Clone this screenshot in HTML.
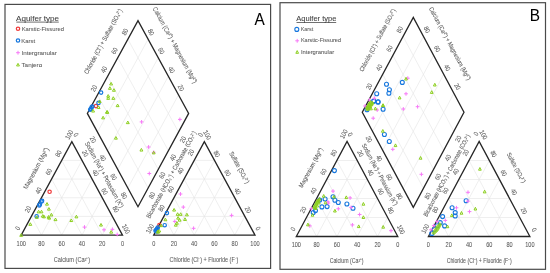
<!DOCTYPE html>
<html><head><meta charset="utf-8"><style>
html,body{margin:0;padding:0;background:#fff;}
svg{display:block;font-family:'Liberation Sans', Arial, sans-serif;}
text{stroke-width:0.06px;}
</style></head><body>
<svg width="550" height="273" viewBox="0 0 550 273">
<rect width="550" height="273" fill="#fff"/>
<rect x="5" y="4.4" width="265.6" height="264" fill="none" stroke="#4a4a4a" stroke-width="1.2"/>
<line x1="31.33" y1="216.42" x2="112.37" y2="216.42" stroke="#e4e4e4" stroke-width="0.6"/>
<line x1="41.46" y1="235.1" x2="81.98" y2="160.38" stroke="#e4e4e4" stroke-width="0.6"/>
<line x1="41.46" y1="235.1" x2="31.33" y2="216.42" stroke="#e4e4e4" stroke-width="0.6"/>
<line x1="163.83" y1="216.42" x2="244.87" y2="216.42" stroke="#e4e4e4" stroke-width="0.6"/>
<line x1="173.96" y1="235.1" x2="214.48" y2="160.38" stroke="#e4e4e4" stroke-width="0.6"/>
<line x1="173.96" y1="235.1" x2="163.83" y2="216.42" stroke="#e4e4e4" stroke-width="0.6"/>
<line x1="97.48" y1="94.84" x2="148.13" y2="188.04" stroke="#e4e4e4" stroke-width="0.6"/>
<line x1="97.48" y1="132.06" x2="148.13" y2="39.16" stroke="#e4e4e4" stroke-width="0.6"/>
<line x1="41.46" y1="197.74" x2="102.24" y2="197.74" stroke="#e4e4e4" stroke-width="0.6"/>
<line x1="61.72" y1="235.1" x2="92.11" y2="179.06" stroke="#e4e4e4" stroke-width="0.6"/>
<line x1="61.72" y1="235.1" x2="41.46" y2="197.74" stroke="#e4e4e4" stroke-width="0.6"/>
<line x1="173.96" y1="197.74" x2="234.74" y2="197.74" stroke="#e4e4e4" stroke-width="0.6"/>
<line x1="194.22" y1="235.1" x2="224.61" y2="179.06" stroke="#e4e4e4" stroke-width="0.6"/>
<line x1="194.22" y1="235.1" x2="173.96" y2="197.74" stroke="#e4e4e4" stroke-width="0.6"/>
<line x1="107.61" y1="76.28" x2="158.26" y2="169.38" stroke="#e4e4e4" stroke-width="0.6"/>
<line x1="107.61" y1="150.72" x2="158.26" y2="57.72" stroke="#e4e4e4" stroke-width="0.6"/>
<line x1="51.59" y1="179.06" x2="92.11" y2="179.06" stroke="#e4e4e4" stroke-width="0.6"/>
<line x1="81.98" y1="235.1" x2="102.24" y2="197.74" stroke="#e4e4e4" stroke-width="0.6"/>
<line x1="81.98" y1="235.1" x2="51.59" y2="179.06" stroke="#e4e4e4" stroke-width="0.6"/>
<line x1="184.09" y1="179.06" x2="224.61" y2="179.06" stroke="#e4e4e4" stroke-width="0.6"/>
<line x1="214.48" y1="235.1" x2="234.74" y2="197.74" stroke="#e4e4e4" stroke-width="0.6"/>
<line x1="214.48" y1="235.1" x2="184.09" y2="179.06" stroke="#e4e4e4" stroke-width="0.6"/>
<line x1="117.74" y1="57.72" x2="168.39" y2="150.72" stroke="#e4e4e4" stroke-width="0.6"/>
<line x1="117.74" y1="169.38" x2="168.39" y2="76.28" stroke="#e4e4e4" stroke-width="0.6"/>
<line x1="61.72" y1="160.38" x2="81.98" y2="160.38" stroke="#e4e4e4" stroke-width="0.6"/>
<line x1="102.24" y1="235.1" x2="112.37" y2="216.42" stroke="#e4e4e4" stroke-width="0.6"/>
<line x1="102.24" y1="235.1" x2="61.72" y2="160.38" stroke="#e4e4e4" stroke-width="0.6"/>
<line x1="194.22" y1="160.38" x2="214.48" y2="160.38" stroke="#e4e4e4" stroke-width="0.6"/>
<line x1="234.74" y1="235.1" x2="244.87" y2="216.42" stroke="#e4e4e4" stroke-width="0.6"/>
<line x1="234.74" y1="235.1" x2="194.22" y2="160.38" stroke="#e4e4e4" stroke-width="0.6"/>
<line x1="127.87" y1="39.16" x2="178.52" y2="132.06" stroke="#e4e4e4" stroke-width="0.6"/>
<line x1="127.87" y1="188.04" x2="178.52" y2="94.84" stroke="#e4e4e4" stroke-width="0.6"/>
<polygon points="21.2,235.1 122.5,235.1 71.85,141.7" fill="none" stroke="#262626" stroke-width="1.3" stroke-linejoin="miter"/>
<polygon points="153.7,235.1 255,235.1 204.35,141.7" fill="none" stroke="#262626" stroke-width="1.3" stroke-linejoin="miter"/>
<polygon points="138,206.7 87.35,113.4 138,20.6 188.65,113.4" fill="none" stroke="#262626" stroke-width="1.3" stroke-linejoin="miter"/>
<text transform="translate(21.2 242.9) scale(0.83 1)" font-size="6.8" fill="#595959" stroke="#595959" text-anchor="middle" dominant-baseline="central">100</text>
<text transform="translate(41.46 242.9) scale(0.83 1)" font-size="6.8" fill="#595959" stroke="#595959" text-anchor="middle" dominant-baseline="central">80</text>
<text transform="translate(61.72 242.9) scale(0.83 1)" font-size="6.8" fill="#595959" stroke="#595959" text-anchor="middle" dominant-baseline="central">60</text>
<text transform="translate(81.98 242.9) scale(0.83 1)" font-size="6.8" fill="#595959" stroke="#595959" text-anchor="middle" dominant-baseline="central">40</text>
<text transform="translate(102.24 242.9) scale(0.83 1)" font-size="6.8" fill="#595959" stroke="#595959" text-anchor="middle" dominant-baseline="central">20</text>
<text transform="translate(122.5 242.9) scale(0.83 1)" font-size="6.8" fill="#595959" stroke="#595959" text-anchor="middle" dominant-baseline="central">0</text>
<text transform="translate(153.7 242.9) scale(0.83 1)" font-size="6.8" fill="#595959" stroke="#595959" text-anchor="middle" dominant-baseline="central">0</text>
<text transform="translate(173.96 242.9) scale(0.83 1)" font-size="6.8" fill="#595959" stroke="#595959" text-anchor="middle" dominant-baseline="central">20</text>
<text transform="translate(194.22 242.9) scale(0.83 1)" font-size="6.8" fill="#595959" stroke="#595959" text-anchor="middle" dominant-baseline="central">40</text>
<text transform="translate(214.48 242.9) scale(0.83 1)" font-size="6.8" fill="#595959" stroke="#595959" text-anchor="middle" dominant-baseline="central">60</text>
<text transform="translate(234.74 242.9) scale(0.83 1)" font-size="6.8" fill="#595959" stroke="#595959" text-anchor="middle" dominant-baseline="central">80</text>
<text transform="translate(255 242.9) scale(0.83 1)" font-size="6.8" fill="#595959" stroke="#595959" text-anchor="middle" dominant-baseline="central">100</text>
<text transform="translate(17.3 228) rotate(-61.53) scale(0.83 1)" font-size="6.8" fill="#595959" stroke="#595959" text-anchor="middle" dominant-baseline="central">0</text>
<text transform="translate(27.6 209.3) rotate(-61.53) scale(0.83 1)" font-size="6.8" fill="#595959" stroke="#595959" text-anchor="middle" dominant-baseline="central">20</text>
<text transform="translate(38.1 190.5) rotate(-61.53) scale(0.83 1)" font-size="6.8" fill="#595959" stroke="#595959" text-anchor="middle" dominant-baseline="central">40</text>
<text transform="translate(48.3 171.8) rotate(-61.53) scale(0.83 1)" font-size="6.8" fill="#595959" stroke="#595959" text-anchor="middle" dominant-baseline="central">60</text>
<text transform="translate(58.1 153.5) rotate(-61.53) scale(0.83 1)" font-size="6.8" fill="#595959" stroke="#595959" text-anchor="middle" dominant-baseline="central">80</text>
<text transform="translate(68.8 134.6) rotate(-61.53) scale(0.83 1)" font-size="6.8" fill="#595959" stroke="#595959" text-anchor="middle" dominant-baseline="central">100</text>
<text transform="translate(76.4 134.6) rotate(61.53) scale(0.83 1)" font-size="6.8" fill="#595959" stroke="#595959" text-anchor="middle" dominant-baseline="central">0</text>
<text transform="translate(85.6 153.3) rotate(61.53) scale(0.83 1)" font-size="6.8" fill="#595959" stroke="#595959" text-anchor="middle" dominant-baseline="central">20</text>
<text transform="translate(95.8 172.7) rotate(61.53) scale(0.83 1)" font-size="6.8" fill="#595959" stroke="#595959" text-anchor="middle" dominant-baseline="central">40</text>
<text transform="translate(104.8 191.1) rotate(61.53) scale(0.83 1)" font-size="6.8" fill="#595959" stroke="#595959" text-anchor="middle" dominant-baseline="central">60</text>
<text transform="translate(116.1 208.9) rotate(61.53) scale(0.83 1)" font-size="6.8" fill="#595959" stroke="#595959" text-anchor="middle" dominant-baseline="central">80</text>
<text transform="translate(126.3 228.9) rotate(61.53) scale(0.83 1)" font-size="6.8" fill="#595959" stroke="#595959" text-anchor="middle" dominant-baseline="central">100</text>
<text transform="translate(200.1 134.6) rotate(-61.53) scale(0.83 1)" font-size="6.8" fill="#595959" stroke="#595959" text-anchor="middle" dominant-baseline="central">0</text>
<text transform="translate(190.5 152.4) rotate(-61.53) scale(0.83 1)" font-size="6.8" fill="#595959" stroke="#595959" text-anchor="middle" dominant-baseline="central">20</text>
<text transform="translate(180.1 170.6) rotate(-61.53) scale(0.83 1)" font-size="6.8" fill="#595959" stroke="#595959" text-anchor="middle" dominant-baseline="central">40</text>
<text transform="translate(170.3 189.2) rotate(-61.53) scale(0.83 1)" font-size="6.8" fill="#595959" stroke="#595959" text-anchor="middle" dominant-baseline="central">60</text>
<text transform="translate(161 208) rotate(-61.53) scale(0.83 1)" font-size="6.8" fill="#595959" stroke="#595959" text-anchor="middle" dominant-baseline="central">80</text>
<text transform="translate(149.7 228.5) rotate(-61.53) scale(0.83 1)" font-size="6.8" fill="#595959" stroke="#595959" text-anchor="middle" dominant-baseline="central">100</text>
<text transform="translate(207.6 134.9) rotate(61.53) scale(0.83 1)" font-size="6.8" fill="#595959" stroke="#595959" text-anchor="middle" dominant-baseline="central">100</text>
<text transform="translate(217.2 153.7) rotate(61.53) scale(0.83 1)" font-size="6.8" fill="#595959" stroke="#595959" text-anchor="middle" dominant-baseline="central">80</text>
<text transform="translate(227.9 172.8) rotate(61.53) scale(0.83 1)" font-size="6.8" fill="#595959" stroke="#595959" text-anchor="middle" dominant-baseline="central">60</text>
<text transform="translate(237.9 191) rotate(61.53) scale(0.83 1)" font-size="6.8" fill="#595959" stroke="#595959" text-anchor="middle" dominant-baseline="central">40</text>
<text transform="translate(248.3 209.7) rotate(61.53) scale(0.83 1)" font-size="6.8" fill="#595959" stroke="#595959" text-anchor="middle" dominant-baseline="central">20</text>
<text transform="translate(258.3 228.4) rotate(61.53) scale(0.83 1)" font-size="6.8" fill="#595959" stroke="#595959" text-anchor="middle" dominant-baseline="central">0</text>
<text transform="translate(93.5 88.2) rotate(-61.53) scale(0.83 1)" font-size="6.8" fill="#595959" stroke="#595959" text-anchor="middle" dominant-baseline="central">20</text>
<text transform="translate(103.7 69.5) rotate(-61.53) scale(0.83 1)" font-size="6.8" fill="#595959" stroke="#595959" text-anchor="middle" dominant-baseline="central">40</text>
<text transform="translate(114.2 50.7) rotate(-61.53) scale(0.83 1)" font-size="6.8" fill="#595959" stroke="#595959" text-anchor="middle" dominant-baseline="central">60</text>
<text transform="translate(124.6 31.6) rotate(-61.53) scale(0.83 1)" font-size="6.8" fill="#595959" stroke="#595959" text-anchor="middle" dominant-baseline="central">80</text>
<text transform="translate(151.5 32) rotate(61.53) scale(0.83 1)" font-size="6.8" fill="#595959" stroke="#595959" text-anchor="middle" dominant-baseline="central">80</text>
<text transform="translate(161.6 50.7) rotate(61.53) scale(0.83 1)" font-size="6.8" fill="#595959" stroke="#595959" text-anchor="middle" dominant-baseline="central">60</text>
<text transform="translate(171.9 69.6) rotate(61.53) scale(0.83 1)" font-size="6.8" fill="#595959" stroke="#595959" text-anchor="middle" dominant-baseline="central">40</text>
<text transform="translate(181.5 87.7) rotate(61.53) scale(0.83 1)" font-size="6.8" fill="#595959" stroke="#595959" text-anchor="middle" dominant-baseline="central">20</text>
<text transform="translate(93.3 139.4) rotate(61.53) scale(0.83 1)" font-size="6.8" fill="#595959" stroke="#595959" text-anchor="middle" dominant-baseline="central">20</text>
<text transform="translate(103.2 157.8) rotate(61.53) scale(0.83 1)" font-size="6.8" fill="#595959" stroke="#595959" text-anchor="middle" dominant-baseline="central">40</text>
<text transform="translate(113.9 176.8) rotate(61.53) scale(0.83 1)" font-size="6.8" fill="#595959" stroke="#595959" text-anchor="middle" dominant-baseline="central">60</text>
<text transform="translate(124.3 195.4) rotate(61.53) scale(0.83 1)" font-size="6.8" fill="#595959" stroke="#595959" text-anchor="middle" dominant-baseline="central">80</text>
<text transform="translate(182.6 139.5) rotate(-61.53) scale(0.83 1)" font-size="6.8" fill="#595959" stroke="#595959" text-anchor="middle" dominant-baseline="central">20</text>
<text transform="translate(172.6 157.4) rotate(-61.53) scale(0.83 1)" font-size="6.8" fill="#595959" stroke="#595959" text-anchor="middle" dominant-baseline="central">40</text>
<text transform="translate(161.8 175.1) rotate(-61.53) scale(0.83 1)" font-size="6.8" fill="#595959" stroke="#595959" text-anchor="middle" dominant-baseline="central">60</text>
<text transform="translate(151.5 195.1) rotate(-61.53) scale(0.83 1)" font-size="6.8" fill="#595959" stroke="#595959" text-anchor="middle" dominant-baseline="central">80</text>
<text transform="translate(35.9 168.25) rotate(-61.53)" font-size="6.6" fill="#595959" stroke="#595959" text-anchor="middle" dominant-baseline="central" textLength="46.09" lengthAdjust="spacingAndGlyphs">Magnesium (Mg²⁺)</text>
<text transform="translate(104.6 174.6) rotate(61.53)" font-size="6.6" fill="#595959" stroke="#595959" text-anchor="middle" dominant-baseline="central" textLength="74.16" lengthAdjust="spacingAndGlyphs">Sodium (Na⁺) + Potassium (K⁺)</text>
<text transform="translate(71.9 259.5)" font-size="6.6" fill="#595959" stroke="#595959" text-anchor="middle" dominant-baseline="central" textLength="36.2" lengthAdjust="spacingAndGlyphs">Calcium (Ca²⁺)</text>
<text transform="translate(171.05 174.45) rotate(-61.53)" font-size="6.6" fill="#595959" stroke="#595959" text-anchor="middle" dominant-baseline="central" textLength="97.84" lengthAdjust="spacingAndGlyphs">Bicarbonate (HCO₃⁻) + Carbonate (CO₃²⁻)</text>
<text transform="translate(239.7 167.45) rotate(61.53)" font-size="6.6" fill="#595959" stroke="#595959" text-anchor="middle" dominant-baseline="central" textLength="35.26" lengthAdjust="spacingAndGlyphs">Sulfate (SO₄²⁻)</text>
<text transform="translate(203.9 259.7)" font-size="6.6" fill="#595959" stroke="#595959" text-anchor="middle" dominant-baseline="central" textLength="68.8" lengthAdjust="spacingAndGlyphs">Chloride (Cl⁻) + Fluoride (F⁻)</text>
<text transform="translate(102.95 41.4) rotate(-61.53)" font-size="6.6" fill="#595959" stroke="#595959" text-anchor="middle" dominant-baseline="central" textLength="72.9" lengthAdjust="spacingAndGlyphs">Chloride (Cl⁻) + Sulfate (SO₄²⁻)</text>
<text transform="translate(175.2 44.9) rotate(61.53)" font-size="6.6" fill="#595959" stroke="#595959" text-anchor="middle" dominant-baseline="central" textLength="85.7" lengthAdjust="spacingAndGlyphs">Calcium (Ca²⁺) + Magnesium (Mg²⁺)</text>
<text transform="translate(16 20.8)" font-size="7.0" fill="#404040" text-anchor="start" dominant-baseline="alphabetic" stroke="#404040" stroke-width="0.2" textLength="43.1" lengthAdjust="spacingAndGlyphs">Aquifer type</text>
<line x1="16.3" y1="22.1" x2="58.8" y2="22.1" stroke="#404040" stroke-width="0.75"/>
<circle cx="18" cy="28.75" r="1.7" fill="none" stroke="#f03c3c" stroke-width="1.2"/>
<text transform="translate(21.7 28.25)" font-size="6.2" fill="#595959" stroke="#595959" text-anchor="start" dominant-baseline="central" textLength="42.2" lengthAdjust="spacingAndGlyphs">Karstic-Fissured</text>
<circle cx="18" cy="40.5" r="1.7" fill="none" stroke="#1677de" stroke-width="1.2"/>
<text transform="translate(21.3 40)" font-size="6.2" fill="#595959" stroke="#595959" text-anchor="start" dominant-baseline="central" textLength="13.9" lengthAdjust="spacingAndGlyphs">Karst</text>
<path d="M16.1 52.7h3.8M18 50.8v3.8" stroke="#f779f7" stroke-width="1"/>
<text transform="translate(21.45 52.2)" font-size="6.2" fill="#595959" stroke="#595959" text-anchor="start" dominant-baseline="central" textLength="35.35" lengthAdjust="spacingAndGlyphs">Intergranular</text>
<path d="M18 63.35L19.45 65.95L16.55 65.95Z" fill="none" stroke="#8ccf1e" stroke-width="1.0"/>
<text transform="translate(21.45 64.3)" font-size="6.2" fill="#595959" stroke="#595959" text-anchor="start" dominant-baseline="central" textLength="20.75" lengthAdjust="spacingAndGlyphs">Tanjero</text>
<circle cx="49.6" cy="191.8" r="1.7" fill="none" stroke="#f03c3c" stroke-width="1.2"/>
<circle cx="96" cy="106.1" r="1.7" fill="none" stroke="#f03c3c" stroke-width="1.2"/>
<circle cx="159.4" cy="225" r="1.7" fill="none" stroke="#f03c3c" stroke-width="1.2"/>
<circle cx="42.1" cy="200.8" r="1.7" fill="none" stroke="#1677de" stroke-width="1.2"/>
<circle cx="41.5" cy="201.6" r="1.7" fill="none" stroke="#1677de" stroke-width="1.2"/>
<circle cx="39.3" cy="205.4" r="1.7" fill="none" stroke="#1677de" stroke-width="1.2"/>
<circle cx="39.9" cy="204.5" r="1.7" fill="none" stroke="#1677de" stroke-width="1.2"/>
<circle cx="36.6" cy="216.2" r="1.7" fill="none" stroke="#1677de" stroke-width="1.2"/>
<circle cx="101.1" cy="92.6" r="1.7" fill="none" stroke="#1677de" stroke-width="1.2"/>
<circle cx="98.5" cy="102.9" r="1.7" fill="none" stroke="#1677de" stroke-width="1.2"/>
<circle cx="91.6" cy="107.3" r="1.7" fill="none" stroke="#1677de" stroke-width="1.2"/>
<circle cx="90.8" cy="108.8" r="1.7" fill="none" stroke="#1677de" stroke-width="1.2"/>
<circle cx="90.2" cy="109.8" r="1.7" fill="none" stroke="#1677de" stroke-width="1.2"/>
<circle cx="92.3" cy="106.5" r="1.7" fill="none" stroke="#1677de" stroke-width="1.2"/>
<circle cx="166.9" cy="213.1" r="1.7" fill="none" stroke="#1677de" stroke-width="1.2"/>
<circle cx="164.7" cy="225.2" r="1.7" fill="none" stroke="#1677de" stroke-width="1.2"/>
<circle cx="156.1" cy="230" r="1.7" fill="none" stroke="#1677de" stroke-width="1.2"/>
<circle cx="156.8" cy="231.5" r="1.7" fill="none" stroke="#1677de" stroke-width="1.2"/>
<circle cx="157" cy="228.8" r="1.7" fill="none" stroke="#1677de" stroke-width="1.2"/>
<circle cx="155.5" cy="230.8" r="1.7" fill="none" stroke="#1677de" stroke-width="1.2"/>
<circle cx="157.8" cy="227.6" r="1.7" fill="none" stroke="#1677de" stroke-width="1.2"/>
<path d="M82.6 227.1h3.8M84.5 225.2v3.8" stroke="#f779f7" stroke-width="1"/>
<path d="M102.1 229.8h3.8M104 227.9v3.8" stroke="#f779f7" stroke-width="1"/>
<path d="M110.5 229.3h3.8M112.4 227.4v3.8" stroke="#f779f7" stroke-width="1"/>
<path d="M115.3 234.5h3.8M117.2 232.6v3.8" stroke="#f779f7" stroke-width="1"/>
<path d="M139.7 121.9h3.8M141.6 120v3.8" stroke="#f779f7" stroke-width="1"/>
<path d="M146.7 147h3.8M148.6 145.1v3.8" stroke="#f779f7" stroke-width="1"/>
<path d="M151.8 152.3h3.8M153.7 150.4v3.8" stroke="#f779f7" stroke-width="1"/>
<path d="M147.4 173.5h3.8M149.3 171.6v3.8" stroke="#f779f7" stroke-width="1"/>
<path d="M178 119.4h3.8M179.9 117.5v3.8" stroke="#f779f7" stroke-width="1"/>
<path d="M181.4 207.1h3.8M183.3 205.2v3.8" stroke="#f779f7" stroke-width="1"/>
<path d="M172.9 221.4h3.8M174.8 219.5v3.8" stroke="#f779f7" stroke-width="1"/>
<path d="M191.7 228.3h3.8M193.6 226.4v3.8" stroke="#f779f7" stroke-width="1"/>
<path d="M229.7 215.4h3.8M231.6 213.5v3.8" stroke="#f779f7" stroke-width="1"/>
<path d="M178.6 194h3.8M180.5 192.1v3.8" stroke="#f779f7" stroke-width="1"/>
<path d="M47 202.55L48.45 205.15L45.55 205.15Z" fill="none" stroke="#8ccf1e" stroke-width="1.0"/>
<path d="M48.9 207.55L50.35 210.15L47.45 210.15Z" fill="none" stroke="#8ccf1e" stroke-width="1.0"/>
<path d="M38.6 210.25L40.05 212.85L37.15 212.85Z" fill="none" stroke="#8ccf1e" stroke-width="1.0"/>
<path d="M41.5 210.25L42.95 212.85L40.05 212.85Z" fill="none" stroke="#8ccf1e" stroke-width="1.0"/>
<path d="M51.4 213.35L52.85 215.95L49.95 215.95Z" fill="none" stroke="#8ccf1e" stroke-width="1.0"/>
<path d="M42.8 214.55L44.25 217.15L41.35 217.15Z" fill="none" stroke="#8ccf1e" stroke-width="1.0"/>
<path d="M44 215.25L45.45 217.85L42.55 217.85Z" fill="none" stroke="#8ccf1e" stroke-width="1.0"/>
<path d="M48.5 215.55L49.95 218.15L47.05 218.15Z" fill="none" stroke="#8ccf1e" stroke-width="1.0"/>
<path d="M49.2 216.55L50.65 219.15L47.75 219.15Z" fill="none" stroke="#8ccf1e" stroke-width="1.0"/>
<path d="M55.5 218.05L56.95 220.65L54.05 220.65Z" fill="none" stroke="#8ccf1e" stroke-width="1.0"/>
<path d="M71.3 218.95L72.75 221.55L69.85 221.55Z" fill="none" stroke="#8ccf1e" stroke-width="1.0"/>
<path d="M76.4 215.25L77.85 217.85L74.95 217.85Z" fill="none" stroke="#8ccf1e" stroke-width="1.0"/>
<path d="M36.8 215.75L38.25 218.35L35.35 218.35Z" fill="none" stroke="#8ccf1e" stroke-width="1.0"/>
<path d="M30.3 222.75L31.75 225.35L28.85 225.35Z" fill="none" stroke="#8ccf1e" stroke-width="1.0"/>
<path d="M21.2 233.75L22.65 236.35L19.75 236.35Z" fill="none" stroke="#8ccf1e" stroke-width="1.0"/>
<path d="M101 223.45L102.45 226.05L99.55 226.05Z" fill="none" stroke="#8ccf1e" stroke-width="1.0"/>
<path d="M111.2 230.55L112.65 233.15L109.75 233.15Z" fill="none" stroke="#8ccf1e" stroke-width="1.0"/>
<path d="M111.1 82.35L112.55 84.95L109.65 84.95Z" fill="none" stroke="#8ccf1e" stroke-width="1.0"/>
<path d="M109.9 86.75L111.35 89.35L108.45 89.35Z" fill="none" stroke="#8ccf1e" stroke-width="1.0"/>
<path d="M113.9 88.65L115.35 91.25L112.45 91.25Z" fill="none" stroke="#8ccf1e" stroke-width="1.0"/>
<path d="M108.2 94.55L109.65 97.15L106.75 97.15Z" fill="none" stroke="#8ccf1e" stroke-width="1.0"/>
<path d="M108.2 96.75L109.65 99.35L106.75 99.35Z" fill="none" stroke="#8ccf1e" stroke-width="1.0"/>
<path d="M113.3 96.75L114.75 99.35L111.85 99.35Z" fill="none" stroke="#8ccf1e" stroke-width="1.0"/>
<path d="M117.6 104.05L119.05 106.65L116.15 106.65Z" fill="none" stroke="#8ccf1e" stroke-width="1.0"/>
<path d="M107 110.55L108.45 113.15L105.55 113.15Z" fill="none" stroke="#8ccf1e" stroke-width="1.0"/>
<path d="M99.7 99.95L101.15 102.55L98.25 102.55Z" fill="none" stroke="#8ccf1e" stroke-width="1.0"/>
<path d="M98.6 105.85L100.05 108.45L97.15 108.45Z" fill="none" stroke="#8ccf1e" stroke-width="1.0"/>
<path d="M93.1 109.45L94.55 112.05L91.65 112.05Z" fill="none" stroke="#8ccf1e" stroke-width="1.0"/>
<path d="M107.3 110.75L108.75 113.35L105.85 113.35Z" fill="none" stroke="#8ccf1e" stroke-width="1.0"/>
<path d="M103.1 116.25L104.55 118.85L101.65 118.85Z" fill="none" stroke="#8ccf1e" stroke-width="1.0"/>
<path d="M127.8 121.05L129.25 123.65L126.35 123.65Z" fill="none" stroke="#8ccf1e" stroke-width="1.0"/>
<path d="M115.9 136.55L117.35 139.15L114.45 139.15Z" fill="none" stroke="#8ccf1e" stroke-width="1.0"/>
<path d="M141.4 148.45L142.85 151.05L139.95 151.05Z" fill="none" stroke="#8ccf1e" stroke-width="1.0"/>
<path d="M153.7 151.25L155.15 153.85L152.25 153.85Z" fill="none" stroke="#8ccf1e" stroke-width="1.0"/>
<path d="M161.2 224.05L162.65 226.65L159.75 226.65Z" fill="none" stroke="#8ccf1e" stroke-width="1.0"/>
<path d="M158.2 230.55L159.65 233.15L156.75 233.15Z" fill="none" stroke="#8ccf1e" stroke-width="1.0"/>
<path d="M174.1 208.45L175.55 211.05L172.65 211.05Z" fill="none" stroke="#8ccf1e" stroke-width="1.0"/>
<path d="M177.6 212.75L179.05 215.35L176.15 215.35Z" fill="none" stroke="#8ccf1e" stroke-width="1.0"/>
<path d="M180.7 212.75L182.15 215.35L179.25 215.35Z" fill="none" stroke="#8ccf1e" stroke-width="1.0"/>
<path d="M186.9 213.25L188.35 215.85L185.45 215.85Z" fill="none" stroke="#8ccf1e" stroke-width="1.0"/>
<path d="M178.1 216.55L179.55 219.15L176.65 219.15Z" fill="none" stroke="#8ccf1e" stroke-width="1.0"/>
<path d="M179.6 218.55L181.05 221.15L178.15 221.15Z" fill="none" stroke="#8ccf1e" stroke-width="1.0"/>
<path d="M185 217.85L186.45 220.45L183.55 220.45Z" fill="none" stroke="#8ccf1e" stroke-width="1.0"/>
<path d="M176.9 221.65L178.35 224.25L175.45 224.25Z" fill="none" stroke="#8ccf1e" stroke-width="1.0"/>
<path d="M165.4 218.15L166.85 220.75L163.95 220.75Z" fill="none" stroke="#8ccf1e" stroke-width="1.0"/>
<path d="M175.8 223.55L177.25 226.15L174.35 226.15Z" fill="none" stroke="#8ccf1e" stroke-width="1.0"/>
<path d="M159.2 229.35L160.65 231.95L157.75 231.95Z" fill="none" stroke="#8ccf1e" stroke-width="1.0"/>
<path d="M157.7 230.15L159.15 232.75L156.25 232.75Z" fill="none" stroke="#8ccf1e" stroke-width="1.0"/>
<text transform="translate(259.5 19.2) scale(0.93 1)" font-size="16.5" fill="#000" text-anchor="middle" dominant-baseline="central" stroke="#000" stroke-width="0.3">A</text>
<rect x="280" y="2.7" width="265.5" height="266.6" fill="none" stroke="#4a4a4a" stroke-width="1.2"/>
<line x1="306.45" y1="217.5" x2="387.65" y2="217.5" stroke="#e4e4e4" stroke-width="0.6"/>
<line x1="316.6" y1="236.5" x2="357.2" y2="160.5" stroke="#e4e4e4" stroke-width="0.6"/>
<line x1="316.6" y1="236.5" x2="306.45" y2="217.5" stroke="#e4e4e4" stroke-width="0.6"/>
<line x1="438.55" y1="217.5" x2="519.75" y2="217.5" stroke="#e4e4e4" stroke-width="0.6"/>
<line x1="448.7" y1="236.5" x2="489.3" y2="160.5" stroke="#e4e4e4" stroke-width="0.6"/>
<line x1="448.7" y1="236.5" x2="438.55" y2="217.5" stroke="#e4e4e4" stroke-width="0.6"/>
<line x1="372.5" y1="93.34" x2="423.44" y2="188.38" stroke="#e4e4e4" stroke-width="0.6"/>
<line x1="372.5" y1="131.32" x2="423.44" y2="36.46" stroke="#e4e4e4" stroke-width="0.6"/>
<line x1="316.6" y1="198.5" x2="377.5" y2="198.5" stroke="#e4e4e4" stroke-width="0.6"/>
<line x1="336.9" y1="236.5" x2="367.35" y2="179.5" stroke="#e4e4e4" stroke-width="0.6"/>
<line x1="336.9" y1="236.5" x2="316.6" y2="198.5" stroke="#e4e4e4" stroke-width="0.6"/>
<line x1="448.7" y1="198.5" x2="509.6" y2="198.5" stroke="#e4e4e4" stroke-width="0.6"/>
<line x1="469" y1="236.5" x2="499.45" y2="179.5" stroke="#e4e4e4" stroke-width="0.6"/>
<line x1="469" y1="236.5" x2="448.7" y2="198.5" stroke="#e4e4e4" stroke-width="0.6"/>
<line x1="382.7" y1="74.38" x2="433.58" y2="169.36" stroke="#e4e4e4" stroke-width="0.6"/>
<line x1="382.7" y1="150.34" x2="433.58" y2="55.42" stroke="#e4e4e4" stroke-width="0.6"/>
<line x1="326.75" y1="179.5" x2="367.35" y2="179.5" stroke="#e4e4e4" stroke-width="0.6"/>
<line x1="357.2" y1="236.5" x2="377.5" y2="198.5" stroke="#e4e4e4" stroke-width="0.6"/>
<line x1="357.2" y1="236.5" x2="326.75" y2="179.5" stroke="#e4e4e4" stroke-width="0.6"/>
<line x1="458.85" y1="179.5" x2="499.45" y2="179.5" stroke="#e4e4e4" stroke-width="0.6"/>
<line x1="489.3" y1="236.5" x2="509.6" y2="198.5" stroke="#e4e4e4" stroke-width="0.6"/>
<line x1="489.3" y1="236.5" x2="458.85" y2="179.5" stroke="#e4e4e4" stroke-width="0.6"/>
<line x1="392.9" y1="55.42" x2="443.72" y2="150.34" stroke="#e4e4e4" stroke-width="0.6"/>
<line x1="392.9" y1="169.36" x2="443.72" y2="74.38" stroke="#e4e4e4" stroke-width="0.6"/>
<line x1="336.9" y1="160.5" x2="357.2" y2="160.5" stroke="#e4e4e4" stroke-width="0.6"/>
<line x1="377.5" y1="236.5" x2="387.65" y2="217.5" stroke="#e4e4e4" stroke-width="0.6"/>
<line x1="377.5" y1="236.5" x2="336.9" y2="160.5" stroke="#e4e4e4" stroke-width="0.6"/>
<line x1="469" y1="160.5" x2="489.3" y2="160.5" stroke="#e4e4e4" stroke-width="0.6"/>
<line x1="509.6" y1="236.5" x2="519.75" y2="217.5" stroke="#e4e4e4" stroke-width="0.6"/>
<line x1="509.6" y1="236.5" x2="469" y2="160.5" stroke="#e4e4e4" stroke-width="0.6"/>
<line x1="403.1" y1="36.46" x2="453.86" y2="131.32" stroke="#e4e4e4" stroke-width="0.6"/>
<line x1="403.1" y1="188.38" x2="453.86" y2="93.34" stroke="#e4e4e4" stroke-width="0.6"/>
<polygon points="296.3,236.5 397.8,236.5 347.05,141.5" fill="none" stroke="#262626" stroke-width="1.3" stroke-linejoin="miter"/>
<polygon points="428.4,236.5 529.9,236.5 479.15,141.5" fill="none" stroke="#262626" stroke-width="1.3" stroke-linejoin="miter"/>
<polygon points="413.3,207.4 362.3,112.3 413.3,17.5 464,112.3" fill="none" stroke="#262626" stroke-width="1.3" stroke-linejoin="miter"/>
<text transform="translate(296.3 244.4) scale(0.83 1)" font-size="6.7" fill="#595959" stroke="#595959" text-anchor="middle" dominant-baseline="central">100</text>
<text transform="translate(316.6 244.4) scale(0.83 1)" font-size="6.7" fill="#595959" stroke="#595959" text-anchor="middle" dominant-baseline="central">80</text>
<text transform="translate(336.9 244.4) scale(0.83 1)" font-size="6.7" fill="#595959" stroke="#595959" text-anchor="middle" dominant-baseline="central">60</text>
<text transform="translate(357.2 244.4) scale(0.83 1)" font-size="6.7" fill="#595959" stroke="#595959" text-anchor="middle" dominant-baseline="central">40</text>
<text transform="translate(377.5 244.4) scale(0.83 1)" font-size="6.7" fill="#595959" stroke="#595959" text-anchor="middle" dominant-baseline="central">20</text>
<text transform="translate(397.8 244.4) scale(0.83 1)" font-size="6.7" fill="#595959" stroke="#595959" text-anchor="middle" dominant-baseline="central">0</text>
<text transform="translate(428.4 244.4) scale(0.83 1)" font-size="6.7" fill="#595959" stroke="#595959" text-anchor="middle" dominant-baseline="central">0</text>
<text transform="translate(448.7 244.4) scale(0.83 1)" font-size="6.7" fill="#595959" stroke="#595959" text-anchor="middle" dominant-baseline="central">20</text>
<text transform="translate(469 244.4) scale(0.83 1)" font-size="6.7" fill="#595959" stroke="#595959" text-anchor="middle" dominant-baseline="central">40</text>
<text transform="translate(489.3 244.4) scale(0.83 1)" font-size="6.7" fill="#595959" stroke="#595959" text-anchor="middle" dominant-baseline="central">60</text>
<text transform="translate(509.6 244.4) scale(0.83 1)" font-size="6.7" fill="#595959" stroke="#595959" text-anchor="middle" dominant-baseline="central">80</text>
<text transform="translate(529.9 244.4) scale(0.83 1)" font-size="6.7" fill="#595959" stroke="#595959" text-anchor="middle" dominant-baseline="central">100</text>
<text transform="translate(292.7 228.8) rotate(-61.89) scale(0.83 1)" font-size="6.7" fill="#595959" stroke="#595959" text-anchor="middle" dominant-baseline="central">0</text>
<text transform="translate(302.85 209.8) rotate(-61.89) scale(0.83 1)" font-size="6.7" fill="#595959" stroke="#595959" text-anchor="middle" dominant-baseline="central">20</text>
<text transform="translate(313 190.8) rotate(-61.89) scale(0.83 1)" font-size="6.7" fill="#595959" stroke="#595959" text-anchor="middle" dominant-baseline="central">40</text>
<text transform="translate(323.15 171.8) rotate(-61.89) scale(0.83 1)" font-size="6.7" fill="#595959" stroke="#595959" text-anchor="middle" dominant-baseline="central">60</text>
<text transform="translate(333.3 152.8) rotate(-61.89) scale(0.83 1)" font-size="6.7" fill="#595959" stroke="#595959" text-anchor="middle" dominant-baseline="central">80</text>
<text transform="translate(343.45 133.8) rotate(-61.89) scale(0.83 1)" font-size="6.7" fill="#595959" stroke="#595959" text-anchor="middle" dominant-baseline="central">100</text>
<text transform="translate(350.65 134.3) rotate(61.89) scale(0.83 1)" font-size="6.7" fill="#595959" stroke="#595959" text-anchor="middle" dominant-baseline="central">0</text>
<text transform="translate(360.8 153.3) rotate(61.89) scale(0.83 1)" font-size="6.7" fill="#595959" stroke="#595959" text-anchor="middle" dominant-baseline="central">20</text>
<text transform="translate(370.95 172.3) rotate(61.89) scale(0.83 1)" font-size="6.7" fill="#595959" stroke="#595959" text-anchor="middle" dominant-baseline="central">40</text>
<text transform="translate(381.1 191.3) rotate(61.89) scale(0.83 1)" font-size="6.7" fill="#595959" stroke="#595959" text-anchor="middle" dominant-baseline="central">60</text>
<text transform="translate(391.25 210.3) rotate(61.89) scale(0.83 1)" font-size="6.7" fill="#595959" stroke="#595959" text-anchor="middle" dominant-baseline="central">80</text>
<text transform="translate(401.4 229.3) rotate(61.89) scale(0.83 1)" font-size="6.7" fill="#595959" stroke="#595959" text-anchor="middle" dominant-baseline="central">100</text>
<text transform="translate(475.55 133.6) rotate(-61.89) scale(0.83 1)" font-size="6.7" fill="#595959" stroke="#595959" text-anchor="middle" dominant-baseline="central">0</text>
<text transform="translate(465.4 152.6) rotate(-61.89) scale(0.83 1)" font-size="6.7" fill="#595959" stroke="#595959" text-anchor="middle" dominant-baseline="central">20</text>
<text transform="translate(455.25 171.6) rotate(-61.89) scale(0.83 1)" font-size="6.7" fill="#595959" stroke="#595959" text-anchor="middle" dominant-baseline="central">40</text>
<text transform="translate(445.1 190.6) rotate(-61.89) scale(0.83 1)" font-size="6.7" fill="#595959" stroke="#595959" text-anchor="middle" dominant-baseline="central">60</text>
<text transform="translate(434.95 209.6) rotate(-61.89) scale(0.83 1)" font-size="6.7" fill="#595959" stroke="#595959" text-anchor="middle" dominant-baseline="central">80</text>
<text transform="translate(424.8 228.6) rotate(-61.89) scale(0.83 1)" font-size="6.7" fill="#595959" stroke="#595959" text-anchor="middle" dominant-baseline="central">100</text>
<text transform="translate(483.85 134.6) rotate(61.89) scale(0.83 1)" font-size="6.7" fill="#595959" stroke="#595959" text-anchor="middle" dominant-baseline="central">100</text>
<text transform="translate(494 153.6) rotate(61.89) scale(0.83 1)" font-size="6.7" fill="#595959" stroke="#595959" text-anchor="middle" dominant-baseline="central">80</text>
<text transform="translate(504.15 172.6) rotate(61.89) scale(0.83 1)" font-size="6.7" fill="#595959" stroke="#595959" text-anchor="middle" dominant-baseline="central">60</text>
<text transform="translate(514.3 191.6) rotate(61.89) scale(0.83 1)" font-size="6.7" fill="#595959" stroke="#595959" text-anchor="middle" dominant-baseline="central">40</text>
<text transform="translate(524.45 210.6) rotate(61.89) scale(0.83 1)" font-size="6.7" fill="#595959" stroke="#595959" text-anchor="middle" dominant-baseline="central">20</text>
<text transform="translate(534.6 229.6) rotate(61.89) scale(0.83 1)" font-size="6.7" fill="#595959" stroke="#595959" text-anchor="middle" dominant-baseline="central">0</text>
<text transform="translate(368.7 86.34) rotate(-61.89) scale(0.83 1)" font-size="6.7" fill="#595959" stroke="#595959" text-anchor="middle" dominant-baseline="central">20</text>
<text transform="translate(378.9 67.38) rotate(-61.89) scale(0.83 1)" font-size="6.7" fill="#595959" stroke="#595959" text-anchor="middle" dominant-baseline="central">40</text>
<text transform="translate(389.1 48.42) rotate(-61.89) scale(0.83 1)" font-size="6.7" fill="#595959" stroke="#595959" text-anchor="middle" dominant-baseline="central">60</text>
<text transform="translate(399.3 29.46) rotate(-61.89) scale(0.83 1)" font-size="6.7" fill="#595959" stroke="#595959" text-anchor="middle" dominant-baseline="central">80</text>
<text transform="translate(427.44 29.46) rotate(61.89) scale(0.83 1)" font-size="6.7" fill="#595959" stroke="#595959" text-anchor="middle" dominant-baseline="central">80</text>
<text transform="translate(437.58 48.42) rotate(61.89) scale(0.83 1)" font-size="6.7" fill="#595959" stroke="#595959" text-anchor="middle" dominant-baseline="central">60</text>
<text transform="translate(447.72 67.38) rotate(61.89) scale(0.83 1)" font-size="6.7" fill="#595959" stroke="#595959" text-anchor="middle" dominant-baseline="central">40</text>
<text transform="translate(457.86 86.34) rotate(61.89) scale(0.83 1)" font-size="6.7" fill="#595959" stroke="#595959" text-anchor="middle" dominant-baseline="central">20</text>
<text transform="translate(369.3 139.02) rotate(61.89) scale(0.83 1)" font-size="6.7" fill="#595959" stroke="#595959" text-anchor="middle" dominant-baseline="central">20</text>
<text transform="translate(379.5 158.04) rotate(61.89) scale(0.83 1)" font-size="6.7" fill="#595959" stroke="#595959" text-anchor="middle" dominant-baseline="central">40</text>
<text transform="translate(389.7 177.06) rotate(61.89) scale(0.83 1)" font-size="6.7" fill="#595959" stroke="#595959" text-anchor="middle" dominant-baseline="central">60</text>
<text transform="translate(399.9 196.08) rotate(61.89) scale(0.83 1)" font-size="6.7" fill="#595959" stroke="#595959" text-anchor="middle" dominant-baseline="central">80</text>
<text transform="translate(457.76 138.72) rotate(-61.89) scale(0.83 1)" font-size="6.7" fill="#595959" stroke="#595959" text-anchor="middle" dominant-baseline="central">20</text>
<text transform="translate(447.62 157.74) rotate(-61.89) scale(0.83 1)" font-size="6.7" fill="#595959" stroke="#595959" text-anchor="middle" dominant-baseline="central">40</text>
<text transform="translate(437.48 176.76) rotate(-61.89) scale(0.83 1)" font-size="6.7" fill="#595959" stroke="#595959" text-anchor="middle" dominant-baseline="central">60</text>
<text transform="translate(427.34 195.78) rotate(-61.89) scale(0.83 1)" font-size="6.7" fill="#595959" stroke="#595959" text-anchor="middle" dominant-baseline="central">80</text>
<text transform="translate(310.55 167.5) rotate(-61.89)" font-size="6.4" fill="#595959" stroke="#595959" text-anchor="middle" dominant-baseline="central" textLength="44.28" lengthAdjust="spacingAndGlyphs">Magnesium (Mg²⁺)</text>
<text transform="translate(380.1 174.35) rotate(61.89)" font-size="6.4" fill="#595959" stroke="#595959" text-anchor="middle" dominant-baseline="central" textLength="69.23" lengthAdjust="spacingAndGlyphs">Sodium (Na⁺) + Potassium (K⁺)</text>
<text transform="translate(346.6 260.4)" font-size="6.4" fill="#595959" stroke="#595959" text-anchor="middle" dominant-baseline="central" textLength="33.8" lengthAdjust="spacingAndGlyphs">Calcium (Ca²⁺)</text>
<text transform="translate(446.4 175.15) rotate(-61.89)" font-size="6.4" fill="#595959" stroke="#595959" text-anchor="middle" dominant-baseline="central" textLength="92.06" lengthAdjust="spacingAndGlyphs">Bicarbonate (HCO₃⁻) + Carbonate (CO₃²⁻)</text>
<text transform="translate(516.5 167.55) rotate(61.89)" font-size="6.4" fill="#595959" stroke="#595959" text-anchor="middle" dominant-baseline="central" textLength="33.5" lengthAdjust="spacingAndGlyphs">Sulfate (SO₄²⁻)</text>
<text transform="translate(479.15 260.7)" font-size="6.4" fill="#595959" stroke="#595959" text-anchor="middle" dominant-baseline="central" textLength="64.9" lengthAdjust="spacingAndGlyphs">Chloride (Cl⁻) + Fluoride (F⁻)</text>
<text transform="translate(377.25 40.05) rotate(-61.89)" font-size="6.4" fill="#595959" stroke="#595959" text-anchor="middle" dominant-baseline="central" textLength="70.06" lengthAdjust="spacingAndGlyphs">Chloride (Cl⁻) + Sulfate (SO₄²⁻)</text>
<text transform="translate(450.25 43.45) rotate(61.89)" font-size="6.4" fill="#595959" stroke="#595959" text-anchor="middle" dominant-baseline="central" textLength="81.94" lengthAdjust="spacingAndGlyphs">Calcium (Ca²⁺) + Magnesium (Mg²⁺)</text>
<text transform="translate(296.2 21.3)" font-size="6.7" fill="#404040" text-anchor="start" dominant-baseline="alphabetic" stroke="#404040" stroke-width="0.2" textLength="40.3" lengthAdjust="spacingAndGlyphs">Aquifer type</text>
<line x1="296.5" y1="22.5" x2="336.2" y2="22.5" stroke="#404040" stroke-width="0.75"/>
<circle cx="296.8" cy="29.4" r="2.0" fill="none" stroke="#1677de" stroke-width="1.1"/>
<text transform="translate(300.7 29)" font-size="5.9" fill="#595959" stroke="#595959" text-anchor="start" dominant-baseline="central" textLength="12.6" lengthAdjust="spacingAndGlyphs">Karst</text>
<path d="M295.3 40.8h3.8M297.2 38.9v3.8" stroke="#f779f7" stroke-width="1"/>
<text transform="translate(300.9 40.4)" font-size="5.9" fill="#595959" stroke="#595959" text-anchor="start" dominant-baseline="central" textLength="40.1" lengthAdjust="spacingAndGlyphs">Karstic-Fissured</text>
<path d="M297.2 50.6L298.55 53.3L295.85 53.3Z" fill="none" stroke="#8ccf1e" stroke-width="1.0"/>
<text transform="translate(300.9 51.7)" font-size="5.9" fill="#595959" stroke="#595959" text-anchor="start" dominant-baseline="central" textLength="33.2" lengthAdjust="spacingAndGlyphs">Intergranular</text>
<circle cx="386.5" cy="84.3" r="2.0" fill="none" stroke="#1677de" stroke-width="1.1"/>
<circle cx="402.3" cy="82.4" r="2.0" fill="none" stroke="#1677de" stroke-width="1.1"/>
<circle cx="389.4" cy="89.8" r="2.0" fill="none" stroke="#1677de" stroke-width="1.1"/>
<circle cx="388.9" cy="93.3" r="2.0" fill="none" stroke="#1677de" stroke-width="1.1"/>
<circle cx="376.7" cy="93.8" r="2.0" fill="none" stroke="#1677de" stroke-width="1.1"/>
<circle cx="378.1" cy="101.9" r="2.0" fill="none" stroke="#1677de" stroke-width="1.1"/>
<circle cx="373.7" cy="101" r="2.0" fill="none" stroke="#1677de" stroke-width="1.1"/>
<circle cx="383.1" cy="109.3" r="2.0" fill="none" stroke="#1677de" stroke-width="1.1"/>
<circle cx="367" cy="109.7" r="2.0" fill="none" stroke="#1677de" stroke-width="1.1"/>
<circle cx="373.6" cy="101.2" r="2.0" fill="none" stroke="#1677de" stroke-width="1.1"/>
<circle cx="378" cy="102" r="2.0" fill="none" stroke="#1677de" stroke-width="1.1"/>
<circle cx="384.4" cy="134.5" r="2.0" fill="none" stroke="#1677de" stroke-width="1.1"/>
<circle cx="389.3" cy="141.5" r="2.0" fill="none" stroke="#1677de" stroke-width="1.1"/>
<circle cx="334.4" cy="170.6" r="2.0" fill="none" stroke="#1677de" stroke-width="1.1"/>
<circle cx="319.7" cy="200.1" r="2.0" fill="none" stroke="#1677de" stroke-width="1.1"/>
<circle cx="325.1" cy="199" r="2.0" fill="none" stroke="#1677de" stroke-width="1.1"/>
<circle cx="321.9" cy="206.9" r="2.0" fill="none" stroke="#1677de" stroke-width="1.1"/>
<circle cx="327.1" cy="206.6" r="2.0" fill="none" stroke="#1677de" stroke-width="1.1"/>
<circle cx="333" cy="196.8" r="2.0" fill="none" stroke="#1677de" stroke-width="1.1"/>
<circle cx="334.9" cy="200.2" r="2.0" fill="none" stroke="#1677de" stroke-width="1.1"/>
<circle cx="338.3" cy="202.5" r="2.0" fill="none" stroke="#1677de" stroke-width="1.1"/>
<circle cx="346.9" cy="204" r="2.0" fill="none" stroke="#1677de" stroke-width="1.1"/>
<circle cx="353" cy="208.2" r="2.0" fill="none" stroke="#1677de" stroke-width="1.1"/>
<circle cx="315.5" cy="210.6" r="2.0" fill="none" stroke="#1677de" stroke-width="1.1"/>
<circle cx="313.2" cy="212.6" r="2.0" fill="none" stroke="#1677de" stroke-width="1.1"/>
<circle cx="466.1" cy="200.8" r="2.0" fill="none" stroke="#1677de" stroke-width="1.1"/>
<circle cx="452.1" cy="207.8" r="2.0" fill="none" stroke="#1677de" stroke-width="1.1"/>
<circle cx="455.2" cy="212.6" r="2.0" fill="none" stroke="#1677de" stroke-width="1.1"/>
<circle cx="455.2" cy="216" r="2.0" fill="none" stroke="#1677de" stroke-width="1.1"/>
<circle cx="431.8" cy="233.4" r="2.0" fill="none" stroke="#1677de" stroke-width="1.1"/>
<circle cx="434.3" cy="229.5" r="2.0" fill="none" stroke="#1677de" stroke-width="1.1"/>
<circle cx="437.3" cy="225.8" r="2.0" fill="none" stroke="#1677de" stroke-width="1.1"/>
<circle cx="440.3" cy="222.6" r="2.0" fill="none" stroke="#1677de" stroke-width="1.1"/>
<circle cx="442.6" cy="216.6" r="2.0" fill="none" stroke="#1677de" stroke-width="1.1"/>
<circle cx="444.6" cy="225.9" r="2.0" fill="none" stroke="#1677de" stroke-width="1.1"/>
<path d="M405.9 78.2h3.8M407.8 76.3v3.8" stroke="#f779f7" stroke-width="1"/>
<path d="M404.1 93.8h3.8M406 91.9v3.8" stroke="#f779f7" stroke-width="1"/>
<path d="M415.7 106.7h3.8M417.6 104.8v3.8" stroke="#f779f7" stroke-width="1"/>
<path d="M401.4 109h3.8M403.3 107.1v3.8" stroke="#f779f7" stroke-width="1"/>
<path d="M371.3 118.2h3.8M373.2 116.3v3.8" stroke="#f779f7" stroke-width="1"/>
<path d="M372.4 98.3h3.8M374.3 96.4v3.8" stroke="#f779f7" stroke-width="1"/>
<path d="M367.6 100.1h3.8M369.5 98.2v3.8" stroke="#f779f7" stroke-width="1"/>
<path d="M363.2 106h3.8M365.1 104.1v3.8" stroke="#f779f7" stroke-width="1"/>
<path d="M375.3 110h3.8M377.2 108.1v3.8" stroke="#f779f7" stroke-width="1"/>
<path d="M390.9 149.3h3.8M392.8 147.4v3.8" stroke="#f779f7" stroke-width="1"/>
<path d="M419.5 174.3h3.8M421.4 172.4v3.8" stroke="#f779f7" stroke-width="1"/>
<path d="M331.1 191.1h3.8M333 189.2v3.8" stroke="#f779f7" stroke-width="1"/>
<path d="M326.4 203.1h3.8M328.3 201.2v3.8" stroke="#f779f7" stroke-width="1"/>
<path d="M336.4 208.8h3.8M338.3 206.9v3.8" stroke="#f779f7" stroke-width="1"/>
<path d="M348.2 197.9h3.8M350.1 196v3.8" stroke="#f779f7" stroke-width="1"/>
<path d="M349.2 207.4h3.8M351.1 205.5v3.8" stroke="#f779f7" stroke-width="1"/>
<path d="M357.7 214.5h3.8M359.6 212.6v3.8" stroke="#f779f7" stroke-width="1"/>
<path d="M350.5 224.9h3.8M352.4 223v3.8" stroke="#f779f7" stroke-width="1"/>
<path d="M307.9 225.9h3.8M309.8 224v3.8" stroke="#f779f7" stroke-width="1"/>
<path d="M316.4 200.5h3.8M318.3 198.6v3.8" stroke="#f779f7" stroke-width="1"/>
<path d="M309.5 208.8h3.8M311.4 206.9v3.8" stroke="#f779f7" stroke-width="1"/>
<path d="M326 201.9h3.8M327.9 200v3.8" stroke="#f779f7" stroke-width="1"/>
<path d="M389.1 230.7h3.8M391 228.8v3.8" stroke="#f779f7" stroke-width="1"/>
<path d="M466.1 192.3h3.8M468 190.4v3.8" stroke="#f779f7" stroke-width="1"/>
<path d="M466 201.2h3.8M467.9 199.3v3.8" stroke="#f779f7" stroke-width="1"/>
<path d="M454.6 207.8h3.8M456.5 205.9v3.8" stroke="#f779f7" stroke-width="1"/>
<path d="M467.6 211.6h3.8M469.5 209.7v3.8" stroke="#f779f7" stroke-width="1"/>
<path d="M443.4 220.4h3.8M445.3 218.5v3.8" stroke="#f779f7" stroke-width="1"/>
<path d="M429.1 229.8h3.8M431 227.9v3.8" stroke="#f779f7" stroke-width="1"/>
<path d="M431.9 225.6h3.8M433.8 223.7v3.8" stroke="#f779f7" stroke-width="1"/>
<path d="M435.1 221.6h3.8M437 219.7v3.8" stroke="#f779f7" stroke-width="1"/>
<path d="M406 77.3L407.35 80L404.65 80Z" fill="none" stroke="#8ccf1e" stroke-width="1.0"/>
<path d="M434.8 83.3L436.15 86L433.45 86Z" fill="none" stroke="#8ccf1e" stroke-width="1.0"/>
<path d="M431.7 90.7L433.05 93.4L430.35 93.4Z" fill="none" stroke="#8ccf1e" stroke-width="1.0"/>
<path d="M399.6 96.2L400.95 98.9L398.25 98.9Z" fill="none" stroke="#8ccf1e" stroke-width="1.0"/>
<path d="M382.9 103.9L384.25 106.6L381.55 106.6Z" fill="none" stroke="#8ccf1e" stroke-width="1.0"/>
<path d="M375.4 107.1L376.75 109.8L374.05 109.8Z" fill="none" stroke="#8ccf1e" stroke-width="1.0"/>
<path d="M371 107.1L372.35 109.8L369.65 109.8Z" fill="none" stroke="#8ccf1e" stroke-width="1.0"/>
<path d="M383.1 103.8L384.45 106.5L381.75 106.5Z" fill="none" stroke="#8ccf1e" stroke-width="1.0"/>
<path d="M366.8 106L368.15 108.7L365.45 108.7Z" fill="none" stroke="#8ccf1e" stroke-width="1.0"/>
<path d="M368 104L369.35 106.7L366.65 106.7Z" fill="none" stroke="#8ccf1e" stroke-width="1.0"/>
<path d="M369.3 102L370.65 104.7L367.95 104.7Z" fill="none" stroke="#8ccf1e" stroke-width="1.0"/>
<path d="M370.5 100.5L371.85 103.2L369.15 103.2Z" fill="none" stroke="#8ccf1e" stroke-width="1.0"/>
<path d="M368.5 107L369.85 109.7L367.15 109.7Z" fill="none" stroke="#8ccf1e" stroke-width="1.0"/>
<path d="M370 105L371.35 107.7L368.65 107.7Z" fill="none" stroke="#8ccf1e" stroke-width="1.0"/>
<path d="M371.5 103L372.85 105.7L370.15 105.7Z" fill="none" stroke="#8ccf1e" stroke-width="1.0"/>
<path d="M372.5 101.5L373.85 104.2L371.15 104.2Z" fill="none" stroke="#8ccf1e" stroke-width="1.0"/>
<path d="M367.5 107.7L368.85 110.4L366.15 110.4Z" fill="none" stroke="#8ccf1e" stroke-width="1.0"/>
<path d="M382.8 129.5L384.15 132.2L381.45 132.2Z" fill="none" stroke="#8ccf1e" stroke-width="1.0"/>
<path d="M395.5 143.9L396.85 146.6L394.15 146.6Z" fill="none" stroke="#8ccf1e" stroke-width="1.0"/>
<path d="M420.6 156.5L421.95 159.2L419.25 159.2Z" fill="none" stroke="#8ccf1e" stroke-width="1.0"/>
<path d="M323.7 194.5L325.05 197.2L322.35 197.2Z" fill="none" stroke="#8ccf1e" stroke-width="1.0"/>
<path d="M334 195.3L335.35 198L332.65 198Z" fill="none" stroke="#8ccf1e" stroke-width="1.0"/>
<path d="M346.3 195.9L347.65 198.6L344.95 198.6Z" fill="none" stroke="#8ccf1e" stroke-width="1.0"/>
<path d="M325.5 201.1L326.85 203.8L324.15 203.8Z" fill="none" stroke="#8ccf1e" stroke-width="1.0"/>
<path d="M334.9 209.3L336.25 212L333.55 212Z" fill="none" stroke="#8ccf1e" stroke-width="1.0"/>
<path d="M363.4 202.5L364.75 205.2L362.05 205.2Z" fill="none" stroke="#8ccf1e" stroke-width="1.0"/>
<path d="M363.4 215.8L364.75 218.5L362.05 218.5Z" fill="none" stroke="#8ccf1e" stroke-width="1.0"/>
<path d="M358.7 224.9L360.05 227.6L357.35 227.6Z" fill="none" stroke="#8ccf1e" stroke-width="1.0"/>
<path d="M307.9 223.1L309.25 225.8L306.55 225.8Z" fill="none" stroke="#8ccf1e" stroke-width="1.0"/>
<path d="M312.5 213.5L313.85 216.2L311.15 216.2Z" fill="none" stroke="#8ccf1e" stroke-width="1.0"/>
<path d="M383.2 225.5L384.55 228.2L381.85 228.2Z" fill="none" stroke="#8ccf1e" stroke-width="1.0"/>
<path d="M314.5 205L315.85 207.7L313.15 207.7Z" fill="none" stroke="#8ccf1e" stroke-width="1.0"/>
<path d="M316 202L317.35 204.7L314.65 204.7Z" fill="none" stroke="#8ccf1e" stroke-width="1.0"/>
<path d="M317.5 199L318.85 201.7L316.15 201.7Z" fill="none" stroke="#8ccf1e" stroke-width="1.0"/>
<path d="M318.8 201.3L320.15 204L317.45 204Z" fill="none" stroke="#8ccf1e" stroke-width="1.0"/>
<path d="M317.3 204.3L318.65 207L315.95 207Z" fill="none" stroke="#8ccf1e" stroke-width="1.0"/>
<path d="M315.8 206.8L317.15 209.5L314.45 209.5Z" fill="none" stroke="#8ccf1e" stroke-width="1.0"/>
<path d="M319.5 197.5L320.85 200.2L318.15 200.2Z" fill="none" stroke="#8ccf1e" stroke-width="1.0"/>
<path d="M484.6 190.2L485.95 192.9L483.25 192.9Z" fill="none" stroke="#8ccf1e" stroke-width="1.0"/>
<path d="M479.9 167.5L481.25 170.2L478.55 170.2Z" fill="none" stroke="#8ccf1e" stroke-width="1.0"/>
<path d="M451.8 213.9L453.15 216.6L450.45 216.6Z" fill="none" stroke="#8ccf1e" stroke-width="1.0"/>
<path d="M461.5 211.5L462.85 214.2L460.15 214.2Z" fill="none" stroke="#8ccf1e" stroke-width="1.0"/>
<path d="M475.4 207.3L476.75 210L474.05 210Z" fill="none" stroke="#8ccf1e" stroke-width="1.0"/>
<path d="M447.5 225L448.85 227.7L446.15 227.7Z" fill="none" stroke="#8ccf1e" stroke-width="1.0"/>
<polygon points="312.8,208.6 316,202.5 318.8,198.3 320.3,199.6 317.8,204.6 315,209.2" fill="#8ccf1e" fill-opacity="0.85" stroke="#8ccf1e" stroke-width="0.6" stroke-linejoin="round"/>
<polygon points="366,109.5 368,104.5 371,101.2 373.2,102.8 371.5,106.8 368.2,110.2" fill="#8ccf1e" fill-opacity="0.85" stroke="#8ccf1e" stroke-width="0.6" stroke-linejoin="round"/>
<polygon points="432,233.4 436.5,226 439.8,222.6 441.6,224.6 438,231 434.2,234.6" fill="#8ccf1e" fill-opacity="0.85" stroke="#8ccf1e" stroke-width="0.6" stroke-linejoin="round"/>
<text transform="translate(534.8 15) scale(0.93 1)" font-size="16.5" fill="#000" text-anchor="middle" dominant-baseline="central" stroke="#000" stroke-width="0.3">B</text>
</svg>
</body></html>
